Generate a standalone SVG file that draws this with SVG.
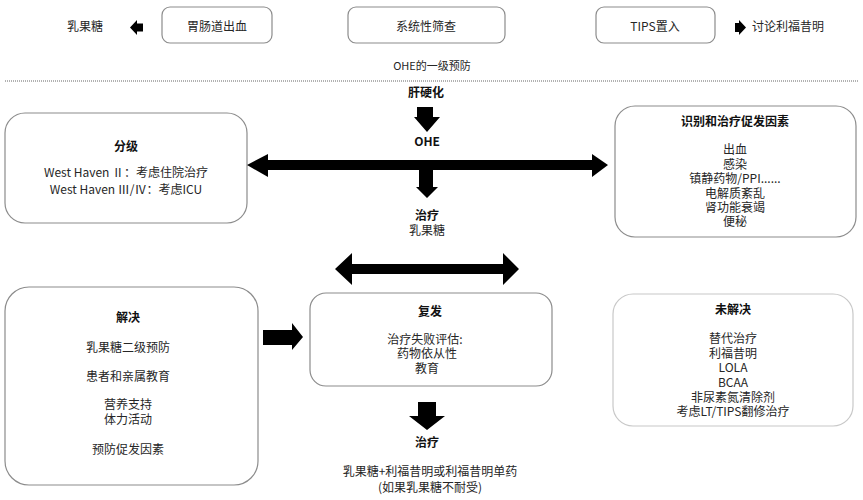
<svg xmlns="http://www.w3.org/2000/svg" width="863" height="500" viewBox="0 0 863 500">
<style>
text{font-family:"Noto Sans CJK SC","Noto Sans",sans-serif;font-size:12px;fill:#262626;text-anchor:middle}
.b{font-weight:bold;fill:#111}
.box{fill:#fff;stroke:#8c8c8c;stroke-width:1.2}
.arr{fill:#000}
</style>
<rect width="863" height="500" fill="#fff"/>
<g id="top-lactulose"><text x="85" y="31">乳果糖</text></g>
<g id="top-gi"><rect class="box" x="162" y="7" width="110" height="36" rx="8"/><text x="217" y="31">胃肠道出血</text></g>
<g id="top-screen"><rect class="box" x="348" y="7" width="157" height="36" rx="8"/><text x="426" y="31">系统性筛查</text></g>
<g id="top-tips"><rect class="box" x="596" y="7" width="119" height="36" rx="8"/><text x="655" y="31">TIPS置入</text></g>
<g id="top-rif"><text x="788" y="31">讨论利福昔明</text></g>
<g id="primary"><text x="432" y="70" style="font-size:11px">OHE的一级预防</text></g>
<line x1="5" y1="81" x2="858" y2="81" stroke="#999" stroke-width="1.5" stroke-dasharray="1,1"/>
<g id="cirrhosis"><text class="b" x="426" y="97">肝硬化</text></g>
<g id="ohe"><text class="b" x="427" y="146">OHE</text></g>
<g id="treat1"><text class="b" x="427" y="220">治疗</text><text x="427" y="235">乳果糖</text></g>
<g id="grading"><rect class="box" x="5" y="113" width="242" height="110" rx="20"/><text class="b" x="126" y="151">分级</text><text x="126" y="177">West Haven Ⅱ：考虑住院治疗</text><text x="126" y="194">West Haven Ⅲ/Ⅳ：考虑ICU</text></g>
<g id="factors"><rect class="box" x="615" y="106" width="241" height="131" rx="20"/><text class="b" x="735" y="126">识别和治疗促发因素</text><text x="735" y="154">出血</text><text x="735" y="169">感染</text><text x="735" y="183">镇静药物/PPI......</text><text x="735" y="198">电解质紊乱</text><text x="735" y="212">肾功能衰竭</text><text x="735" y="226">便秘</text></g>
<g id="resolved"><rect class="box" x="5" y="287" width="253" height="198" rx="24"/><text class="b" x="128" y="322">解决</text><text x="128" y="352">乳果糖二级预防</text><text x="128" y="381">患者和亲属教育</text><text x="128" y="409">营养支持</text><text x="128" y="424">体力活动</text><text x="128" y="454">预防促发因素</text></g>
<g id="relapse"><rect class="box" x="310" y="293" width="242" height="93" rx="16"/><text class="b" x="430" y="316">复发</text><text x="425" y="344">治疗失败评估:</text><text x="427" y="358">药物依从性</text><text x="427" y="373">教育</text></g>
<g id="treat2"><text class="b" x="427" y="447">治疗</text><text x="430" y="476">乳果糖+利福昔明或利福昔明单药</text><text x="430" y="492">(如果乳果糖不耐受)</text></g>
<g id="unresolved"><rect class="box" x="613" y="294" width="240" height="132" rx="20" style="stroke:#c8c8c8"/><text class="b" x="733" y="314">未解决</text><text x="733" y="343">替代治疗</text><text x="733" y="358">利福昔明</text><text x="733" y="372">LOLA</text><text x="733" y="387">BCAA</text><text x="733" y="402">非尿素氮清除剂</text><text x="733" y="416">考虑LT/TIPS翻修治疗</text></g>
<g id="connectors">
<polygon class="arr" points="137,20 137,23.5 143,23.5 143,31.5 137,31.5 137,35 130,27.5"/>
<polygon class="arr" points="735,23 739,23 739,20 746,27.5 739,35 739,32 735,32"/>
<polygon class="arr" points="417,107 433,107 433,117 440,117 427,132 414,117 417,117"/>
<polygon class="arr" points="247,165 268,154 268,160 592,160 592,154 608,165 592,177 592,170 268,170 268,177"/>
<polygon class="arr" points="419,170 433,170 433,187 438,187 427,198 416,187 419,187"/>
<polygon class="arr" points="335,269 352,253 352,264 503,264 503,253 519,269 503,285 503,274 352,274 352,285"/>
<polygon class="arr" points="263,330 292,330 292,323 303,337 292,350 292,345 263,345"/>
<polygon class="arr" points="418,402 436,402 436,416 445,416 427,430 409,416 418,416"/>
</g>
</svg>
